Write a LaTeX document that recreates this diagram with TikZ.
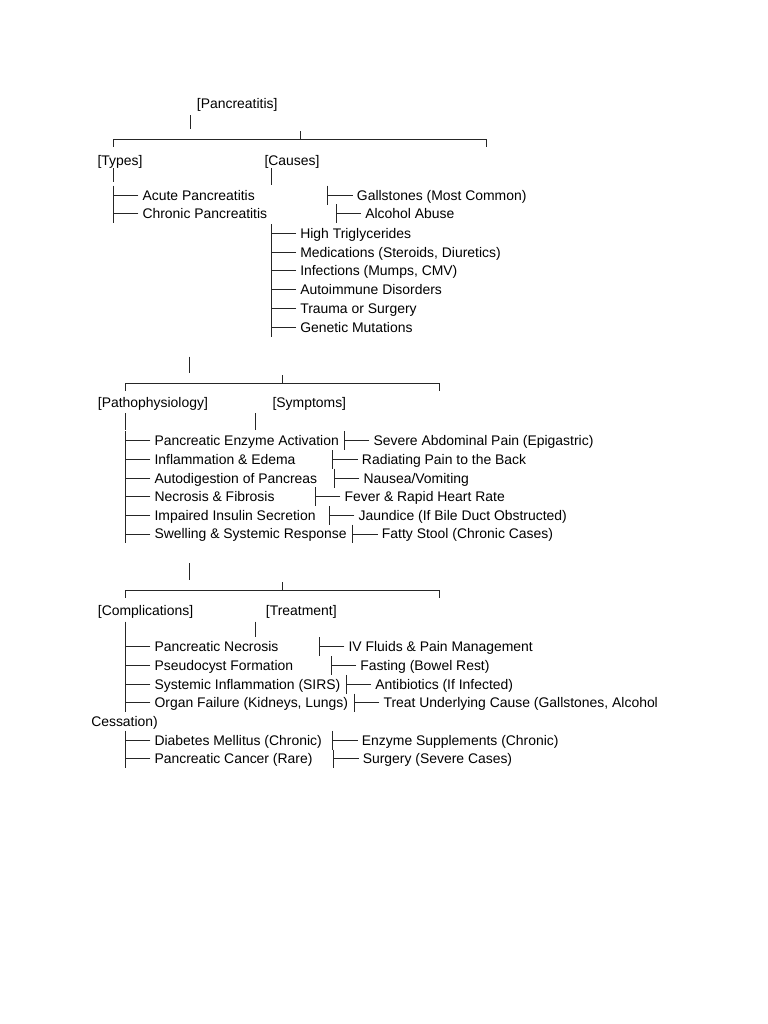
\documentclass[tikz,border=0pt]{standalone}
\usepackage{fontspec}
\setmainfont{Liberation Sans}
\newcommand{\treefont}{\fontsize{11.1pt}{13pt}\selectfont}

\begin{document}
\begin{tikzpicture}[x=0.796875pt, y=-0.796875pt,
    tree/.style={line width=0.7pt, draw=black!85},
    item/.style={anchor=west, inner sep=0pt, text height=8pt, text depth=0pt, font=\treefont},
    leaf/.style={item, append after command={
        ([shift={(-4,0)}]\tikzlastnode.west) edge[tree] ++(-25,0)
        ([shift={(-29,-9.3)}]\tikzlastnode.west) edge[tree] ++(0,18.8)}}]

    % page
    \fill[white] (0,0) rectangle (768,1024);
    \useasboundingbox (0,0) rectangle (768,1024);

    % brackets under each level
    \foreach \y/\l/\m/\r in {139.3/113.3/300/486, 383.3/125/282.3/439, 590/125/282.3/439}
        \draw[tree] (\l,\y+7.5) -- (\l,\y) -- (\r,\y) -- (\r,\y+7.5) (\m,\y) -- (\m,\y-8.5);

    % single bars
    \draw[tree] (190,115) -- (190,129);
    \draw[tree] (113.3,168) -- (113.3,182);
    \draw[tree] (271,168) -- (271,185);
    \draw[tree] (189.5,356.7) -- (189.5,373.3);
    \draw[tree] (125,413.3) -- (125,430);
    \draw[tree] (255.7,413.3) -- (255.7,430);
    \draw[tree] (189.5,563.3) -- (189.5,580);
    \draw[tree] (125,621.7) -- (125,636.7);
    \draw[tree] (255.7,621.7) -- (255.7,636.7);

    % level 1
    \node[item] (root) at (196.7,103) {[Pancreatitis]};
    \node[item] (types) at (97.3,160) {[Types]};
    \node[item] (causes) at (264.3,160) {[Causes]};

    \node[leaf] (acute) at (142.3,195) {Acute Pancreatitis};
    \node[leaf] (chronic) at (142.3,213.5) {Chronic Pancreatitis};
    \node[leaf] (gall) at (356.7,195) {Gallstones (Most Common)};
    \node[leaf] (alcohol) at (365,213.5) {Alcohol Abuse};
    \foreach \t [count=\i] in {{High Triglycerides}, {Medications (Steroids, Diuretics)},
        {Infections (Mumps, CMV)}, {Autoimmune Disorders}, {Trauma or Surgery}, {Genetic Mutations}}
        \node[leaf] (cause\i) at (300,233.3+18.75*\i-18.75) {\t};

    % level 2
    \node[item] (patho) at (97.7,402.3) {[Pathophysiology]};
    \node[item] (symptoms) at (272.3,402.3) {[Symptoms]};
    \foreach \t [count=\i] in {{Pancreatic Enzyme Activation}, {Inflammation \& Edema},
        {Autodigestion of Pancreas}, {Necrosis \& Fibrosis}, {Impaired Insulin Secretion},
        {Swelling \& Systemic Response}}
        \node[leaf] (patho\i) at (154.3,440.7+18.65*\i-18.65) {\t};
    \foreach \t/\x [count=\i] in {{Severe Abdominal Pain (Epigastric)}/373.3, {Radiating Pain to the Back}/361.7,
        {Nausea/Vomiting}/363.3, {Fever \& Rapid Heart Rate}/344.3,
        {Jaundice (If Bile Duct Obstructed)}/358.3, {Fatty Stool (Chronic Cases)}/381.7}
        \node[leaf] (symptom\i) at (\x,440.7+18.65*\i-18.65) {\t};

    % level 3
    \node[item] (compl) at (97.7,610) {[Complications]};
    \node[item] (treat) at (265.7,610) {[Treatment]};
    \node[leaf] (compl1) at (154.3,646.7) {Pancreatic Necrosis};
    \node[leaf] (compl2) at (154.3,665.4) {Pseudocyst Formation};
    \node[leaf] (compl3) at (154.3,684.1) {Systemic Inflammation (SIRS)};
    \node[leaf] (compl4) at (154.3,702.8) {Organ Failure (Kidneys, Lungs)};
    \node[item] (wrap) at (91,721.5) {Cessation)};
    \node[leaf] (compl5) at (154.3,740.2) {Diabetes Mellitus (Chronic)};
    \node[leaf] (compl6) at (154.3,758.9) {Pancreatic Cancer (Rare)};

    \node[leaf] (treat1) at (348.3,646.7) {IV Fluids \& Pain Management};
    \node[leaf] (treat2) at (360,665.4) {Fasting (Bowel Rest)};
    \node[leaf] (treat3) at (375,684.1) {Antibiotics (If Infected)};
    \node[leaf] (treat4) at (383.3,702.8) {Treat Underlying Cause (Gallstones, Alcohol};
    \node[leaf] (treat5) at (361.7,740.2) {Enzyme Supplements (Chronic)};
    \node[leaf] (treat6) at (362.5,758.9) {Surgery (Severe Cases)};

\end{tikzpicture}
\end{document}
